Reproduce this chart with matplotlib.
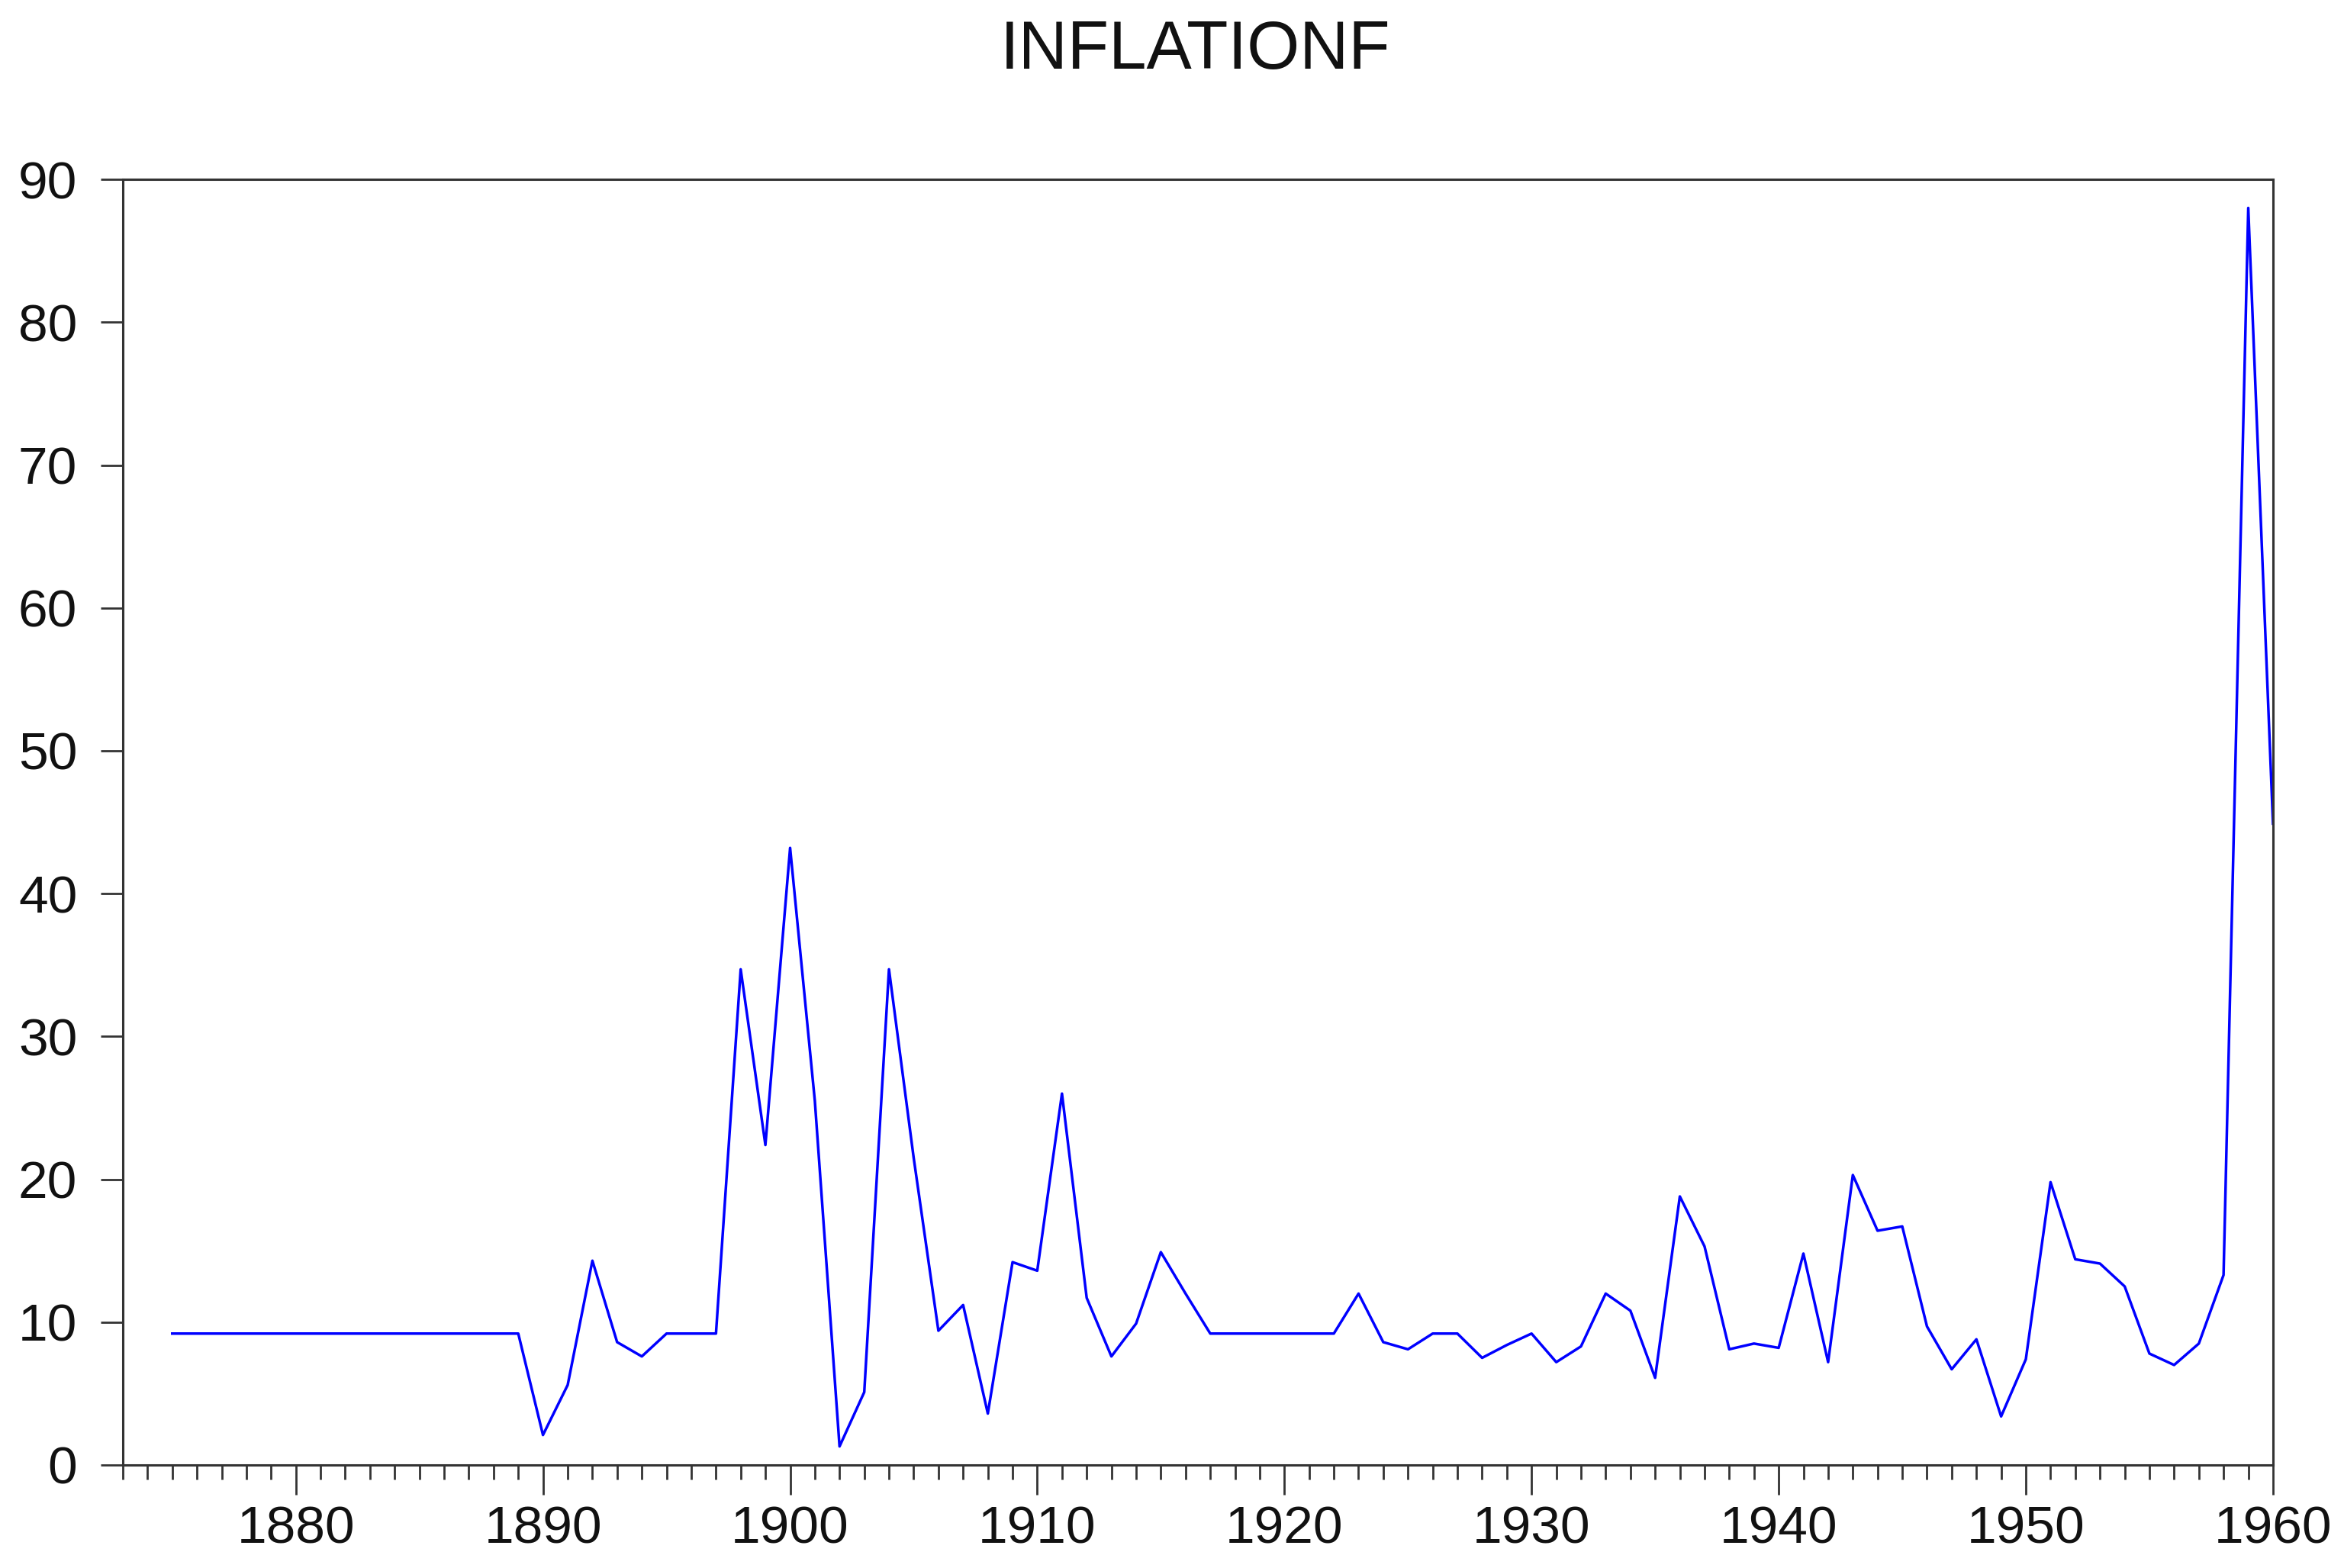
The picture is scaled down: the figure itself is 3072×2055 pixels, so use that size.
import matplotlib
matplotlib.use("Agg")
import matplotlib.pyplot as plt
from matplotlib.ticker import MultipleLocator

plt.rcParams["font.family"] = ["Liberation Sans", "DejaVu Sans"]

# annual series, 1875-1960
years = list(range(1875, 1961))
inflation = [
    9.2, 9.2, 9.2, 9.2, 9.2, 9.2, 9.2, 9.2, 9.2, 9.2,      # 1875-1884
    9.2, 9.2, 9.2, 9.2, 9.2, 2.1, 5.6, 14.3, 8.6, 7.6,     # 1885-1894
    9.2, 9.2, 9.2, 34.7, 22.4, 43.2, 25.5, 1.3, 5.1, 34.7, # 1895-1904
    21.5, 9.4, 11.2, 3.6, 14.2, 13.6, 26.0, 11.7, 7.6, 9.9,  # 1905-1914
    14.9, 12.0, 9.2, 9.2, 9.2, 9.2, 9.2, 9.2, 12.0, 8.6,   # 1915-1924
    8.1, 9.2, 9.2, 7.5, 8.4, 9.2, 7.2, 8.3, 12.0, 10.8,    # 1925-1934
    6.1, 18.8, 15.3, 8.1, 8.5, 8.2, 14.8, 7.2, 20.3, 16.4, # 1935-1944
    16.7, 9.7, 6.7, 8.8, 3.4, 7.4, 19.8, 14.4, 14.1, 12.5, # 1945-1954
    7.8, 7.0, 8.5, 13.3, 88.0, 44.9,                       # 1955-1960
]
title = "INFLATIONF"

fig = plt.figure(figsize=(30.72, 20.55), dpi=100)
ax = fig.add_axes([0.0524, 0.0657, 0.9173, 0.8199])

ax.plot(years, inflation, color="#0000ff", linewidth=2.5)

ax.set_xlim(1873, 1960)
ax.set_ylim(0, 90)
ax.xaxis.set_major_locator(MultipleLocator(10))
ax.xaxis.set_minor_locator(MultipleLocator(1))
ax.yaxis.set_major_locator(MultipleLocator(10))

ax.tick_params(axis="both", which="major", direction="out", color="#333333",
               width=2, labelsize=50, labelcolor="#111111")
ax.tick_params(axis="y", which="major", length=21, pad=22)
ax.tick_params(axis="x", which="major", length=28, pad=10)
ax.tick_params(axis="x", which="minor", direction="out", length=14,
               width=2, color="#333333")

for s in ax.spines.values():
    s.set_linewidth(2.2)
    s.set_color("#333333")

fig.text(0.51, 0.988, title, ha="center", va="top", fontsize=64,
         color="#111111")

fig.savefig("out.png", dpi=100)
